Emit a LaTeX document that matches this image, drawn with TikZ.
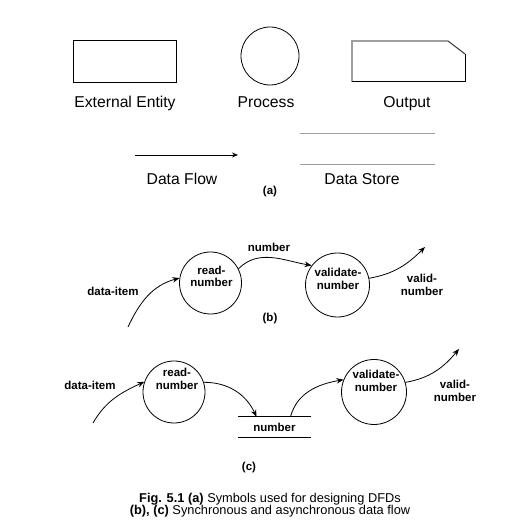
\documentclass[tikz,border=0pt]{standalone}
\usepackage{fontspec}
\setmainfont{Liberation Sans}
\usetikzlibrary{arrows.meta}
\begin{document}
\begin{tikzpicture}[x=1pt,y=1pt,
  bigtxt/.style={font=\fontsize{15.7}{18}\selectfont, inner sep=0pt, anchor=base},
  smalltxt/.style={font=\bfseries\fontsize{11.5}{12.7}\selectfont, align=center, inner sep=0pt},
  proc/.style={circle, draw, line width=0.8pt, minimum size=62pt, inner sep=0pt},
  flow/.style={line width=0.8pt, -{Stealth[length=7pt,width=5.5pt]}},
  graystroke/.style={draw=black!38, line width=1.1pt},
  storebox/.style={inner sep=0pt}
]
\useasboundingbox (0,0) rectangle (519,529);

% ---------- (a) ----------
\node[draw, line width=1pt, minimum width=103pt, minimum height=42pt, inner sep=0pt] (ee) at (124.5,467) {};
\node[circle, draw, line width=0.8pt, minimum size=58pt, inner sep=0pt] (pr) at (270,473) {};
\draw[graystroke] (352,447) -- (352,488) -- (448,488);
\draw[line width=1pt, draw=black!80] (448,488) -- (465,475);
\draw[line width=1pt] (465,475) -- (465,447) -- (352,447);

\node[bigtxt] (eet) at (125,421.5) {External Entity};
\node[bigtxt] (prt) at (266,421.5) {Process};
\node[bigtxt] (outt) at (407,421.5) {Output};

\coordinate (dfs) at (135,374);
\coordinate (dfe) at (238,374);
\draw[line width=0.8pt, -{Stealth[length=6pt,width=5pt]}] (dfs) -- (dfe);

\node[storebox, minimum width=135pt, minimum height=30pt] (ds1) at (367.5,380) {};
\draw[graystroke] (ds1.north west) -- (ds1.north east);
\draw[graystroke] (ds1.south west) -- (ds1.south east);

\node[bigtxt] (dft) at (182,344.5) {Data Flow};
\node[bigtxt] (dst) at (362,344.5) {Data Store};
\node[smalltxt] (la) at (270,337) {(a)};

% ---------- (b) ----------
\node[proc] (rn1) at (210.5,246) {};
\node[smalltxt] (rn1t) at (211.5,252.7) {read-\\number};
\node[proc, minimum size=64pt] (vn1) at (337.5,244) {};
\node[smalltxt] (vn1t) at (338,250) {validate-\\number};
\node[smalltxt] (num1) at (269,282) {number};
\node[smalltxt] (di1) at (113,238) {data-item};
\node[smalltxt] (vo1) at (422,244.2) {valid-\\number};
\node[smalltxt] (lb) at (270,210) {(b)};

\coordinate (di1s) at (128,202);
\coordinate (vn1e) at (425,282);
\draw[flow] (di1s) to[out=65,in=195] (rn1.171);
\draw[flow] (rn1.27) to[out=45,in=170] (vn1.143);
\draw[flow] (vn1.12) to[out=10,in=225] (vn1e);

% ---------- (c) ----------
\node[proc] (rn2) at (174,137) {};
\node[smalltxt] (rn2t) at (177,149.8) {read-\\number};
\node[proc, minimum size=65pt] (vn2) at (374,137) {};
\node[smalltxt] (vn2t) at (376,148.2) {validate-\\number};
\node[smalltxt, minimum width=73pt, minimum height=20pt] (ds2) at (274.5,102) {number};
\draw[line width=0.9pt] (ds2.north west) -- (ds2.north east);
\draw[line width=0.9pt] (ds2.south west) -- (ds2.south east);
\node[smalltxt] (di2) at (90,144) {data-item};
\node[smalltxt] (vo2) at (455,138) {valid-\\number};
\node[smalltxt] (lc) at (249,61) {(c)};

\coordinate (di2s) at (93,106);
\coordinate (vn2e) at (459,180);
\draw[flow] (di2s) to[out=60,in=205] (rn2.161);
\draw[flow] (rn2.18) to[out=0,in=115] ([xshift=-18pt]ds2.north);
\draw[flow] ([xshift=16pt]ds2.north) to[out=75,in=190] (vn2.158);
\draw[flow] (vn2.17) to[out=10,in=230] (vn2e);

% ---------- caption ----------
\node[font=\fontsize{12.8}{12}\selectfont, align=center, inner sep=0pt] (cap) at (270,23.5)
  {\textbf{Fig. 5.1 (a)} Symbols used for designing DFDs\\\textbf{(b), (c)} Synchronous and asynchronous data flow};
\end{tikzpicture}
\end{document}
